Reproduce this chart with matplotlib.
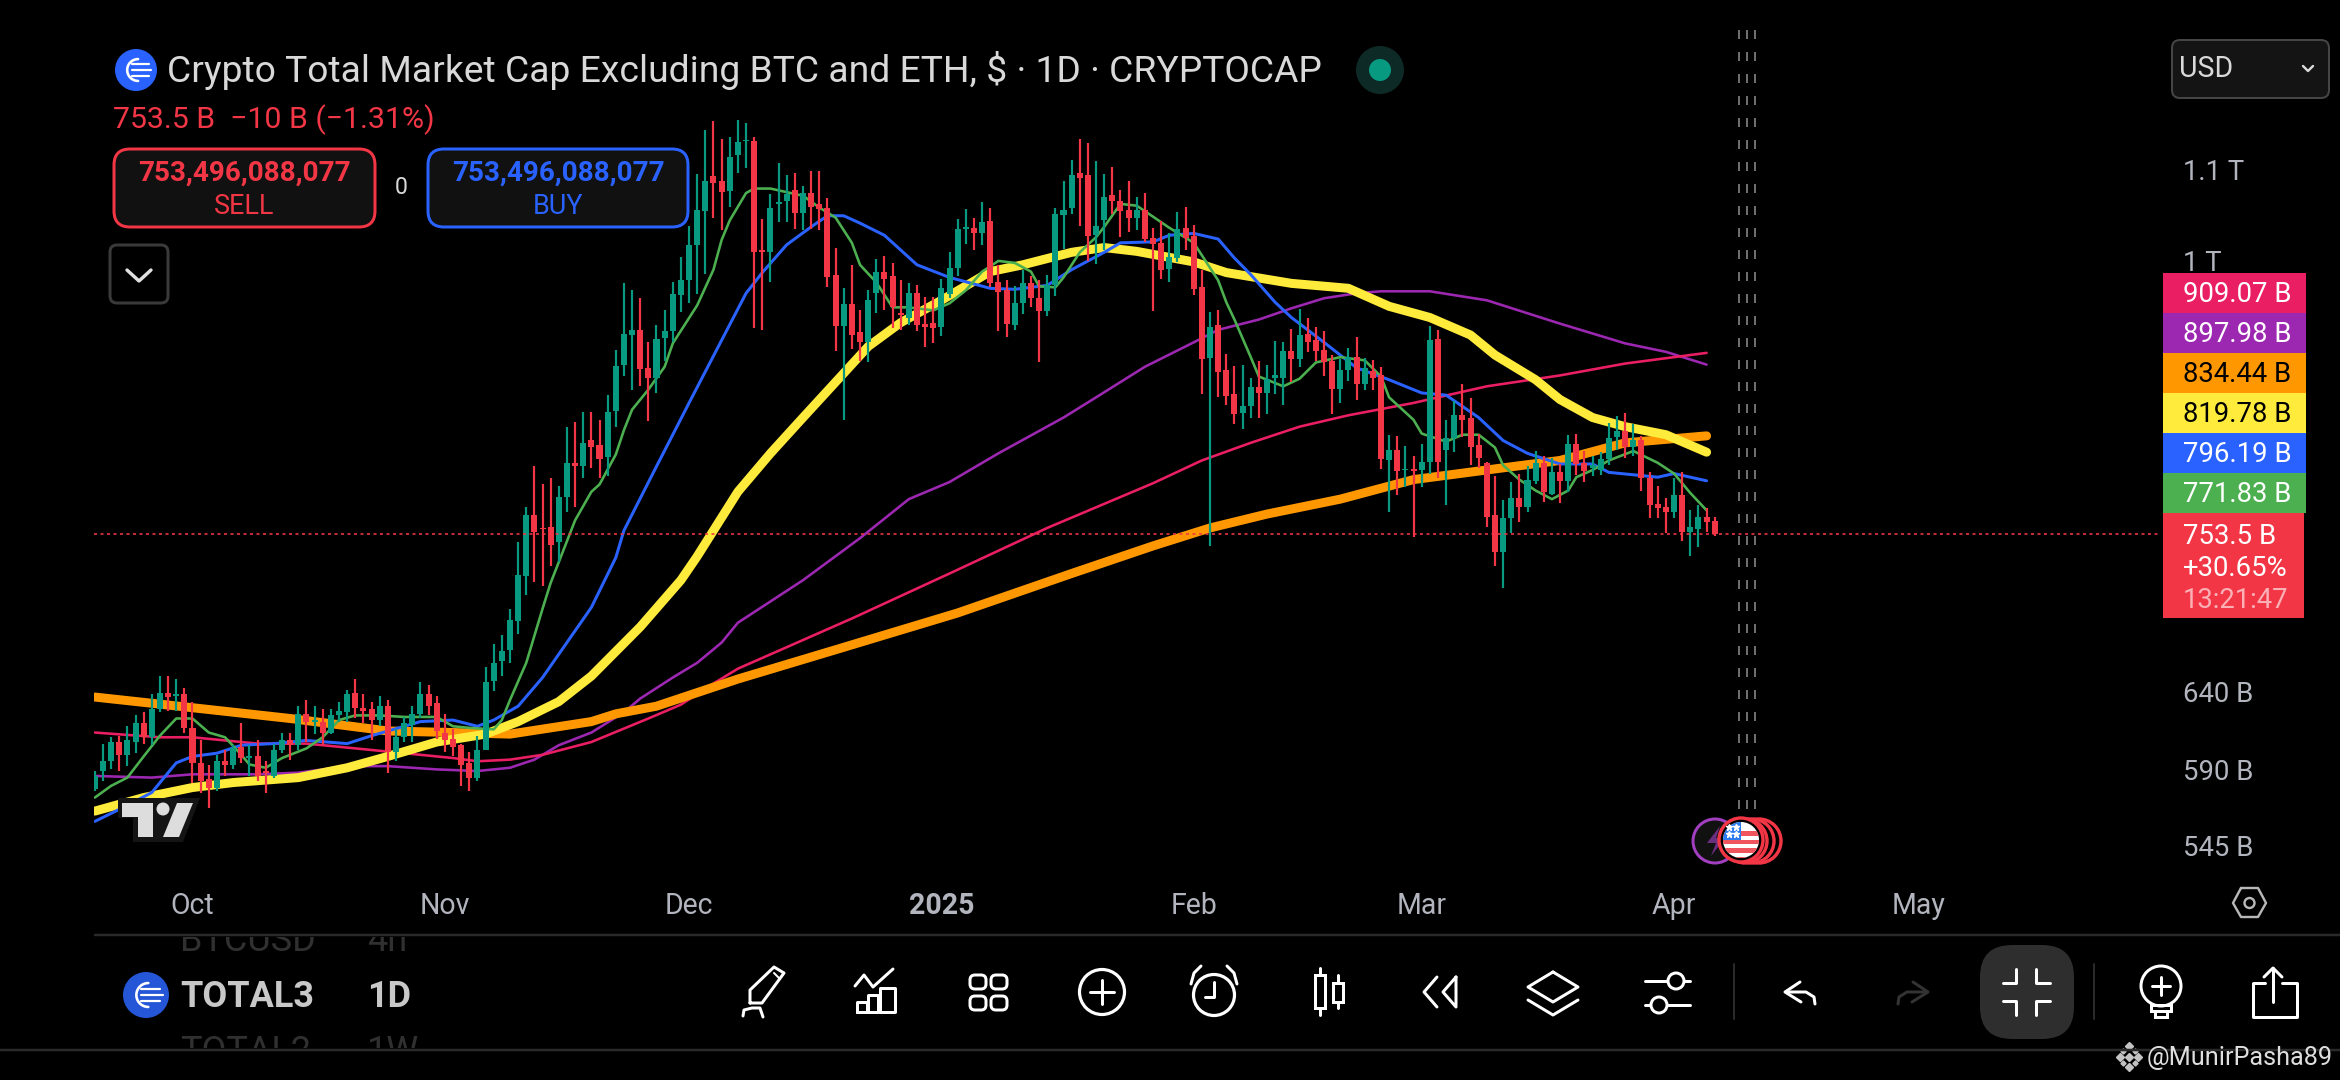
import numpy as np
import pandas as pd
import matplotlib
matplotlib.use('Agg')
import matplotlib.pyplot as plt
import matplotlib.dates as mdates
from matplotlib.patches import Circle, FancyBboxPatch, Polygon, Rectangle
from matplotlib.ticker import NullLocator

plt.rcParams['font.family'] = ['Roboto', 'DejaVu Sans']
plt.rcParams['lines.scale_dashes'] = False

# daily candles in billions of USD, first one is 2024-09-19
first_day = '2024-09-19'
opens = [578, 589, 595, 607, 599, 607, 619, 610, 628, 639, 637, 638, 616, 594, 584, 579, 595, 593, 604, 597,
         598, 589, 586, 602, 608, 605, 625, 620, 620, 613, 624, 626, 639, 629, 628, 621, 630, 601, 610, 618,
         625, 638, 632, 613, 609, 605, 594, 585, 602, 647, 660, 668, 688, 721, 768, 758, 759, 747, 783, 811,
         808, 830, 826, 816, 856, 898, 926, 931, 895, 886, 923, 930, 965, 980, 1017, 1053, 1092, 1086, 1075, 1116,
         1132, 1133, 1011, 1009, 1061, 1064, 1076, 1051, 1073, 1061, 1056, 986, 935, 956, 929, 919, 967, 989, 984, 947,
         943, 967, 937, 938, 934, 966, 993, 1034, 1035, 1029, 1042, 978, 970, 936, 957, 977, 962, 949, 975, 1049,
         1056, 1096, 1093, 1027, 1043, 1071, 1064, 1054, 1046, 1054, 1024, 1019, 992, 1003, 1035, 1026, 973, 904, 936, 893,
         871, 854, 860, 877, 872, 886, 886, 911, 903, 927, 921, 912, 901, 876, 893, 905, 880, 892, 888, 813,
         822, 805, 806, 805, 812, 922, 822, 832, 852, 850, 826, 811, 768, 739, 766, 782, 775, 796, 811, 785,
         803, 796, 827, 811, 807, 805, 814, 833, 838, 824, 830, 798, 777, 775, 771, 784, 755, 757, 767, 763.5]
highs = [589, 606, 610, 611, 617, 624, 626, 638, 650, 650, 648, 642, 633, 608, 593, 599, 602, 605, 619, 605,
         608, 595, 606, 613, 613, 630, 634, 630, 628, 628, 633, 641, 648, 638, 633, 637, 634, 615, 623, 630,
         646, 644, 637, 625, 615, 606, 601, 611, 656, 672, 678, 697, 747, 775, 808, 793, 798, 792, 842, 846,
         855, 855, 848, 870, 912, 977, 970, 962, 919, 936, 950, 978, 1004, 1037, 1094, 1146, 1156, 1135, 1137, 1158,
         1154, 1137, 1045, 1072, 1107, 1093, 1095, 1081, 1098, 1098, 1067, 1014, 972, 996, 950, 970, 1002, 1005, 998, 980,
         977, 975, 963, 963, 981, 1009, 1045, 1055, 1046, 1063, 1057, 996, 980, 974, 991, 985, 980, 986, 1057, 1087,
         1110, 1135, 1130, 1109, 1094, 1102, 1076, 1086, 1069, 1073, 1035, 1042, 1029, 1052, 1058, 1038, 991, 948, 950, 908,
         897, 898, 886, 901, 898, 920, 919, 932, 951, 943, 934, 930, 907, 903, 914, 924, 904, 902, 896, 835,
         834, 825, 817, 827, 935, 931, 848, 865, 880, 867, 836, 812, 800, 780, 795, 802, 808, 821, 817, 815,
         810, 835, 836, 821, 817, 820, 845, 851, 854, 844, 834, 803, 792, 782, 798, 803, 772, 776, 774, 767]
lows = [577, 583, 590, 589, 592, 600, 606, 605, 626, 627, 627, 613, 582, 576, 567, 577, 586, 590, 594, 586,
        583, 576, 585, 600, 596, 602, 607, 612, 605, 612, 620, 620, 622, 619, 608, 617, 588, 595, 607, 607,
        622, 624, 609, 601, 598, 580, 577, 583, 602, 640, 650, 659, 679, 707, 717, 714, 729, 732, 771, 775,
        798, 807, 798, 800, 842, 887, 875, 878, 847, 872, 901, 919, 948, 957, 966, 987, 1046, 1033, 1058, 1096,
        1101, 933, 931, 978, 1041, 1041, 1034, 1033, 1034, 1033, 973, 911, 848, 913, 901, 900, 947, 950, 933, 931,
        936, 930, 915, 918, 925, 962, 984, 1018, 1011, 1017, 973, 930, 924, 931, 946, 953, 900, 944, 964, 1012,
        1050, 1037, 1000, 997, 1011, 1050, 1025, 1031, 1033, 1020, 949, 981, 978, 999, 1011, 965, 871, 744, 868, 861,
        844, 840, 850, 850, 853, 871, 861, 882, 896, 910, 901, 887, 853, 863, 883, 866, 875, 875, 806, 771,
        784, 791, 751, 791, 802, 798, 776, 820, 833, 809, 807, 759, 729, 712, 754, 763, 771, 793, 779, 784,
        778, 787, 801, 795, 800, 801, 809, 822, 815, 817, 788, 766, 766, 754, 766, 748, 736, 743, 755, 752]
closes = [586, 595, 607, 599, 608, 619, 610, 628, 639, 636, 638, 616, 594, 583, 579, 595, 593, 603, 597, 598,
          586, 588, 602, 608, 605, 625, 620, 621, 613, 624, 627, 638, 629, 627, 621, 630, 601, 610, 619, 625,
          638, 630, 614, 608, 604, 593, 585, 602, 646, 659, 667, 689, 722, 768, 755, 757, 745, 783, 811, 808,
          828, 824, 814, 855, 897, 927, 931, 894, 886, 922, 930, 966, 980, 1017, 1054, 1086, 1084, 1074, 1114, 1131,
          1134, 1009, 1009, 1057, 1063, 1072, 1051, 1073, 1058, 1055, 983, 935, 956, 926, 919, 960, 989, 981, 953, 945,
          967, 936, 934, 933, 972, 993, 1034, 1036, 1029, 1041, 977, 968, 937, 957, 977, 962, 949, 975, 1050, 1054,
          1093, 1090, 1026, 1037, 1069, 1064, 1053, 1046, 1054, 1023, 1018, 991, 1004, 1034, 1024, 971, 903, 934, 891, 869,
          853, 860, 877, 872, 885, 888, 911, 903, 926, 919, 911, 900, 876, 893, 905, 880, 895, 886, 814, 822,
          804, 806, 804, 812, 921, 812, 832, 852, 848, 824, 815, 767, 739, 766, 782, 775, 797, 811, 787, 803,
          796, 827, 810, 804, 809, 814, 832, 838, 824, 830, 798, 776, 774, 771, 784, 755, 759, 767, 763, 753.5]

green_days = [-43, -41, -39, -37, -35, -33, -31, -29, -27, -25, -24, -22, -20, -17, -15, -13, -11, -8, -5, -1,
              1, 3, 6, 7, 8, 10, 12, 13, 16, 18, 19, 21, 22, 23, 25, 27, 28, 31, 33, 34,
              35, 37, 38, 40, 42, 44, 46, 48, 50, 51, 53, 55, 57, 60, 62, 64, 66, 68, 70, 72,
              73, 75, 76, 78, 80, 81, 83, 85, 87, 89, 92, 95, 96, 97, 99, 100, 103, 105, 107, 110,
              113, 115, 116, 119, 120, 123, 125, 127, 129, 130, 132, 134, 136, 138, 139, 141, 143, 146, 149, 151,
              153, 155]
green_ma = [573, 580, 585, 598, 611, 622, 622, 613, 610, 599, 593, 591, 597, 603, 610, 621, 624, 624, 623, 623,
            617, 616, 615, 621, 634, 659, 697, 716, 764, 787, 793, 818, 839, 857, 875, 896, 918, 955, 991, 1022,
            1043, 1073, 1078, 1078, 1074, 1070, 1057, 1046, 1019, 996, 978, 953, 953, 950, 957, 970, 989, 1000, 998, 989,
            974, 973, 983, 1009, 1025, 1036, 1061, 1059, 1047, 1035, 1019, 980, 958, 941, 905, 887, 878, 885, 900, 905,
            902, 887, 868, 848, 836, 829, 835, 835, 824, 809, 797, 788, 781, 788, 799, 805, 813, 821, 811, 802,
            786, 772]

blue_days = [-43, -40, -36, -33, -31, -28, -25, -21, -17, -12, -9, -3, 1, 4, 6, 9, 12, 18, 21, 22,
             26, 28, 30, 34, 37, 39, 42, 45, 47, 49, 51, 54, 58, 62, 67, 70, 74, 77, 81, 83,
             87, 89, 92, 95, 97, 99, 102, 104, 108, 112, 116, 120, 123, 127, 130, 133, 137, 141, 143, 149,
             151, 155]
blue_ma = [559, 566, 576, 594, 598, 600, 605, 606, 608, 606, 611, 620, 621, 617, 621, 630, 649, 698, 735, 756,
           808, 835, 863, 921, 967, 988, 1017, 1036, 1048, 1048, 1040, 1027, 996, 983, 972, 971, 975, 991, 1009, 1019,
           1020, 1027, 1029, 1023, 1003, 986, 958, 943, 919, 895, 884, 872, 870, 850, 830, 819, 810, 810, 803, 799,
           802, 796]

yellow_days = [-43, -37, -31, -26, -18, -12, -7, -1, 5, 9, 14, 18, 24, 29, 31, 36, 40, 44, 49, 52,
               56, 61, 67, 71, 77, 81, 85, 92, 96, 104, 111, 116, 121, 126, 129, 134, 137, 141, 145, 150,
               155]
yellow_ma = [565, 573, 579, 582, 585, 591, 598, 607, 612, 620, 633, 650, 684, 718, 736, 787, 819, 850, 890, 915,
             938, 960, 989, 996, 1009, 1014, 1010, 999, 988, 977, 972, 954, 943, 926, 907, 884, 866, 850, 842, 835,
             820]

purple_days = [-43, -36, -31, -23, -18, -12, -7, -1, 4, 8, 11, 14, 18, 22, 24, 28, 31, 34, 36, 44,
               51, 57, 62, 68, 76, 80, 86, 92, 95, 100, 104, 108, 112, 115, 121, 128, 137, 145, 150, 155]
purple_ma = [586, 585, 587, 587, 588, 592, 592, 590, 589, 591, 596, 605, 613, 626, 635, 649, 659, 673, 687, 718,
             750, 781, 795, 819, 850, 868, 896, 919, 931, 941, 952, 962, 967, 969, 969, 960, 937, 918, 910, 898]

pink_days = [-43, -35, -31, -23, -17, -11, -5, 1, 4, 8, 12, 18, 25, 29, 33, 36, 50, 62, 74, 87,
             93, 99, 105, 111, 119, 125, 128, 137, 145, 155]
pink_ma = [613, 610, 610, 606, 606, 603, 600, 597, 595, 596, 599, 607, 622, 631, 645, 655, 690, 723, 758, 794,
           813, 828, 842, 852, 863, 873, 878, 888, 899, 909]

orange_days = [-43, -31, -19, -7, 1, 8, 18, 21, 26, 36, 48, 63, 77, 87, 94, 101, 110, 119, 128, 137,
               145, 155]
orange_ma = [636, 629, 622, 614, 613, 612, 620, 625, 630, 648, 668, 694, 723, 744, 758, 769, 781, 797, 805, 813,
             828, 834]

last_price = 753.5
event_days = [159, 160, 161]
price_ticks = [545, 590, 640, 1000, 1100]
price_tick_labels = ['545 B', '590 B', '640 B', '1 T', '1.1 T']
month_starts = ['2024-10-01', '2024-11-01', '2024-12-01', '2025-01-01', '2025-02-01', '2025-03-01', '2025-04-01', '2025-05-01']
month_labels = ['Oct', 'Nov', 'Dec', '2025', 'Feb', 'Mar', 'Apr', 'May']

tag_labels = ['909.07 B', '897.98 B', '834.44 B', '819.78 B', '796.19 B', '771.83 B']
tag_colors = ['#E91E63', '#9C27B0', '#FF9800', '#FFEB3B', '#2962FF', '#4CAF50']
tag_text = ['white', 'white', 'black', 'black', 'white', 'white']

RED = '#F23645'
UP = '#089981'
BLUE = '#2962FF'
W, H = 2340, 1080
PX = 0.72  # font size in points for one pixel at dpi 100


def main():
  fig = plt.figure(figsize=(W / 100, H / 100), dpi=100, facecolor='black')
  draw_chart(fig)
  ui = fig.add_axes([0, 0, 1, 1], zorder=5)
  ui.set_xlim(0, W)
  ui.set_ylim(H, 0)
  ui.axis('off')
  ui.patch.set_alpha(0)
  draw_header(ui)
  draw_price_tags(ui)
  draw_overlays(ui)
  draw_toolbar(ui)
  fig.savefig('out.png', dpi=100, facecolor='black')


def draw_chart(fig):
  # chart area in pixels: x 94..2160, y 0..885
  ax = fig.add_axes([94 / W, 1 - 885 / H, (2160 - 94) / W, 885 / H], zorder=1)
  ax.set_facecolor('black')
  for s in ax.spines.values():
    s.set_visible(False)

  day0 = mdates.date2num(pd.Timestamp('2024-11-01'))
  days = mdates.date2num(pd.date_range(first_day, periods=len(opens), freq='D'))

  lines = [(purple_days, purple_ma, '#9C27B0', 2.6), (pink_days, pink_ma, '#E91E63', 2.6),
           (orange_days, orange_ma, '#FF9800', 9), (yellow_days, yellow_ma, '#FFEB3B', 9),
           (blue_days, blue_ma, BLUE, 3.0), (green_days, green_ma, '#4CAF50', 2.6)]
  for xs, ys, color, width in lines:
    ax.plot(day0 + np.array(xs), ys, color=color, lw=width * PX, solid_capstyle='round', solid_joinstyle='round', zorder=2)

  o = np.array(opens, dtype=float)
  c = np.array(closes, dtype=float)
  colors = np.where(c >= o, UP, RED)
  ax.vlines(days, lows, highs, colors=colors, lw=2.2 * PX, zorder=3)
  ax.bar(days, np.abs(c - o), bottom=np.minimum(o, c), width=0.74, color=colors, zorder=3)

  ax.axhline(last_price, color=RED, lw=1.6 * PX, ls=(0, (3 * PX, 3.5 * PX)), zorder=4)
  ax.vlines(day0 + np.array(event_days), 566, 1271, colors='#6e6e6e', lw=2 * PX,
            linestyles=[(0, (9 * PX, 13 * PX))], zorder=1)

  ax.set_yscale('log')
  ax.set_ylim(523.3, 1311)
  ax.set_xlim(day0 - 43.1, day0 + 210.7)

  ax.yaxis.tick_right()
  ax.yaxis.set_minor_locator(NullLocator())
  ax.set_yticks(price_ticks, price_tick_labels)
  ax.tick_params(axis='y', length=0, pad=23 * PX, labelsize=27.5 * PX, labelcolor='#b2b5be')
  ax.set_xticks(mdates.date2num(pd.to_datetime(month_starts)), month_labels)
  ax.tick_params(axis='x', length=0, pad=7 * PX, labelsize=28.5 * PX, labelcolor='#b2b5be')
  for lab in ax.get_xticklabels():
    if lab.get_text() == '2025':
      lab.set_fontweight('bold')


def label(ui, x, y, s, size, color, ha='left', va='center', weight='normal', **kw):
  return ui.text(x, y, s, fontsize=size * PX, color=color, ha=ha, va=va, fontweight=weight, **kw)


def stroke(ui, pts, color='white', width=3.0, **kw):
  pts = np.array(pts, dtype=float)
  ui.plot(pts[:, 0], pts[:, 1], color=color, lw=width * PX, solid_capstyle='round', solid_joinstyle='round', **kw)


def round_box(ui, x0, y0, x1, y1, r, fc, ec, width=3.0):
  ui.add_patch(FancyBboxPatch((x0 + r, y0 + r), x1 - x0 - 2 * r, y1 - y0 - 2 * r,
                              boxstyle='round,pad=%f,rounding_size=%f' % (r, r),
                              fc=fc, ec=ec, lw=width * PX))


def coin_logo(ui, x, y, r, color):
  ui.add_patch(Circle((x, y), r, fc=color, ec='none'))
  t = np.linspace(np.pi / 2, 3 * np.pi / 2, 20)
  stroke(ui, np.c_[x + 0.1 * r + 0.52 * r * np.cos(t), y + 0.52 * r * np.sin(t)], width=2.6)
  for dy, end in [(-0.28, 0.62), (0, 0.72), (0.28, 0.62)]:
    stroke(ui, [(x - 0.2 * r, y + dy * r), (x + end * r, y + dy * r)], width=2.2)


def draw_header(ui):
  coin_logo(ui, 136, 70, 21, BLUE)
  label(ui, 167, 82, 'Crypto Total Market Cap Excluding BTC and ETH, $ · 1D · CRYPTOCAP',
        37.2, '#d9d9d9', va='baseline')
  label(ui, 113, 128, '753.5 B  −10 B (−1.31%)', 30.2, RED, va='baseline')

  round_box(ui, 114, 149, 375, 227, 16, '#111111', RED)
  label(ui, 244.5, 173, '753,496,088,077', 27.9, RED, ha='center', weight='bold')
  label(ui, 244.5, 206, 'SELL', 27, RED, ha='center')
  label(ui, 401, 187, '0', 23, '#d9d9d9', ha='center')
  round_box(ui, 428, 149, 688, 227, 16, '#111111', BLUE)
  label(ui, 558, 173, '753,496,088,077', 27.9, BLUE, ha='center', weight='bold')
  label(ui, 558, 206, 'BUY', 27, BLUE, ha='center')

  round_box(ui, 110, 245, 168, 303, 7, 'black', '#3a3a3a')
  stroke(ui, [(127, 270), (139, 281), (151, 270)], '#e0e0e0', 3.4)

  ui.add_patch(Circle((1380, 70), 24, fc='#0d2a26', ec='none'))
  ui.add_patch(Circle((1380, 70), 11, fc=UP, ec='none'))

  round_box(ui, 2172, 40, 2329, 98, 8, '#141414', '#454545', 2)
  label(ui, 2179, 69, 'USD', 28.5, '#d9d9d9')
  stroke(ui, [(2303, 66), (2308, 71), (2313, 66)], '#d9d9d9', 2.4)


def draw_price_tags(ui):
  for i in range(len(tag_labels)):
    y0 = 273 + 40 * i
    ui.add_patch(Rectangle((2163, y0), 143, 40, fc=tag_colors[i], ec='none'))
    label(ui, 2183, y0 + 22, tag_labels[i], 27.5, tag_text[i])
  ui.add_patch(Rectangle((2163, 513), 141, 105, fc=RED, ec='none'))
  label(ui, 2183, 536, '753.5 B', 27.5, 'white')
  label(ui, 2183, 569, '+30.65%', 27.5, 'white')
  label(ui, 2183, 601, '13:21:47', 27.5, '#fbb0b6')


def draw_overlays(ui):
  # tradingview mark
  ui.add_patch(Polygon([(118, 798), (200, 798), (183, 842), (133, 842), (133, 818), (118, 818)], fc='#141414', ec='none'))
  ui.add_patch(Polygon([(122, 803), (153, 803), (153, 837), (138, 837), (138, 817), (122, 817)], fc='#dddddd', ec='none'))
  ui.add_patch(Circle((163, 809), 6.5, fc='#dddddd', ec='none'))
  ui.add_patch(Polygon([(177, 803), (193, 803), (179, 837), (163, 837)], fc='#dddddd', ec='none'))

  # event markers
  ui.add_patch(Circle((1715, 841), 22, fc='#111111', ec='#A13FC0', lw=3 * PX))
  ui.add_patch(Polygon([(1720, 826), (1707, 843), (1716, 843), (1711, 856), (1725, 838), (1716, 838)], fc='#6b2f80', ec='none'))
  for cx in [1759, 1752, 1745]:
    ui.add_patch(Circle((cx, 841), 22, fc='black', ec=RED, lw=3.4 * PX))
  ui.add_patch(Circle((1741, 840), 22, fc='black', ec=RED, lw=3.4 * PX))
  flag = Circle((1741, 840), 18, fc='white', ec='none')
  ui.add_patch(flag)
  for k in range(4):
    st = Rectangle((1722, 835 + k * 8.5 - 4), 40, 4.5, fc='#F0545C', ec='none')
    ui.add_patch(st)
    st.set_clip_path(flag)
  canton = Rectangle((1722, 821), 19, 19, fc='#2E7BF0', ec='none')
  ui.add_patch(canton)
  canton.set_clip_path(flag)
  for sy in [827, 834]:
    ui.plot([1729, 1736], [sy, sy], ls='none', marker='*', ms=4.5, color='white')

  # settings hexagon
  stroke(ui, [(2241, 888), (2258, 888), (2266, 903), (2258, 917), (2241, 917), (2233, 903), (2241, 888)], '#b8b8b8', 2.4)
  ui.add_patch(Circle((2249.5, 903), 5, fc='none', ec='#b8b8b8', lw=2.4 * PX))

  # watermark
  ui.plot([2129, 2129, 2120, 2138, 2129], [1046, 1067, 1057, 1057, 1057], ls='none', marker='D', ms=3.6, color='#c4c4c4')
  ui.plot([2123, 2135, 2123, 2135], [1051, 1051, 1063, 1063], ls='none', marker='D', ms=2.6, color='#c4c4c4')
  label(ui, 2147, 1058, '@MunirPasha89', 25.3, '#dedede')


def draw_toolbar(ui):
  stroke(ui, [(95, 935), (W, 935)], '#2a2a2a', 2.5)
  stroke(ui, [(0, 1050), (W, 1050)], '#2a2a2a', 2.5)

  # symbol list that scrolls behind the two rules
  top = Rectangle((0, 937), W, 111, transform=ui.transData)
  for y, sym, tf in [(941, 'BTCUSD', '4h'), (1052, 'TOTAL2', '1W')]:
    for x, s in [(180, sym), (367, tf)]:
      t = label(ui, x, y, s, 36, '#303030', clip_on=True)
      t.set_clip_path(top)
  coin_logo(ui, 146, 995, 23, '#2556D8')
  label(ui, 180, 997, 'TOTAL3', 36, '#c8c8c8', weight='bold')
  label(ui, 367, 997, '1D', 36, '#c8c8c8', weight='bold')

  # pencil
  stroke(ui, [(750, 1003), (750, 990), (774, 967), (784, 973), (762, 1003), (750, 1003)])
  stroke(ui, [(774, 973), (780, 979)], width=2)
  stroke(ui, [(743, 1016), (744, 1010), (752, 1008), (760, 1008), (763, 1017)])

  # indicators
  stroke(ui, [(855, 986), (864, 975), (873, 987), (893, 969)])
  for x0, y0, x1 in [(857, 1002, 867), (868, 995, 878), (880, 988, 895)]:
    stroke(ui, [(x0, 1012), (x0, y0), (x1, y0), (x1, 1012), (x0, 1012)])

  # layouts
  for x0 in [970, 991]:
    for y0 in [975, 996]:
      round_box(ui, x0, y0, x0 + 16, y0 + 14, 5, 'none', 'white')

  # plus
  ui.add_patch(Circle((1102, 992), 22.5, fc='none', ec='white', lw=3.2 * PX))
  stroke(ui, [(1090, 992), (1114, 992)])
  stroke(ui, [(1102, 980), (1102, 1004)])

  # alarm
  ui.add_patch(Circle((1214, 995), 20.5, fc='none', ec='white', lw=3.2 * PX))
  stroke(ui, [(1214, 982), (1214, 997), (1205, 997)])
  stroke(ui, [(1191, 984), (1194, 973), (1201, 966)])
  stroke(ui, [(1237, 984), (1234, 973), (1227, 966)])

  # candles
  stroke(ui, [(1320, 968), (1320, 975)])
  stroke(ui, [(1320, 1008), (1320, 1015)])
  ui.add_patch(Rectangle((1315, 975), 10, 33, fc='none', ec='white', lw=3 * PX))
  stroke(ui, [(1338, 975), (1338, 983)])
  stroke(ui, [(1338, 1002), (1338, 1008)])
  ui.add_patch(Rectangle((1333, 983), 10, 19, fc='none', ec='white', lw=3 * PX))

  # replay
  stroke(ui, [(1437, 977), (1424, 992), (1437, 1007)])
  stroke(ui, [(1456, 977), (1443, 992), (1456, 1007), (1456, 977)])

  # layers
  stroke(ui, [(1553, 972), (1578, 987), (1553, 1002), (1528, 987), (1553, 972)])
  stroke(ui, [(1528, 1000), (1553, 1015), (1578, 1000)])

  # sliders
  stroke(ui, [(1645, 981), (1667, 981)])
  stroke(ui, [(1685, 981), (1690, 981)])
  ui.add_patch(Circle((1676, 981), 8, fc='none', ec='white', lw=3 * PX))
  stroke(ui, [(1645, 1005), (1650, 1005)])
  stroke(ui, [(1668, 1005), (1690, 1005)])
  ui.add_patch(Circle((1659, 1005), 8, fc='none', ec='white', lw=3 * PX))

  stroke(ui, [(1734, 964), (1734, 1019)], '#2a2a2a', 2)
  stroke(ui, [(2094, 964), (2094, 1019)], '#2a2a2a', 2)

  # undo and redo
  stroke(ui, [(1800, 982), (1785, 992), (1801, 1002)])
  stroke(ui, [(1786, 992), (1806, 992), (1814, 997), (1815, 1004)])
  stroke(ui, [(1913, 982), (1928, 992), (1912, 1002)], '#333333')
  stroke(ui, [(1927, 992), (1907, 992), (1899, 997), (1898, 1004)], '#333333')

  # fullscreen button
  round_box(ui, 1980, 945, 2074, 1039, 32, '#2e2e2e', 'none', 0)
  stroke(ui, [(2016, 969), (2016, 983), (2003, 983)])
  stroke(ui, [(2036, 969), (2036, 983), (2050, 983)])
  stroke(ui, [(2003, 1001), (2016, 1001), (2016, 1015)])
  stroke(ui, [(2050, 1001), (2036, 1001), (2036, 1015)])

  # bulb
  ui.add_patch(Circle((2161, 986), 20, fc='none', ec='white', lw=3 * PX))
  stroke(ui, [(2152, 986), (2170, 986)])
  stroke(ui, [(2161, 977), (2161, 995)])
  ui.add_patch(Rectangle((2151, 1005), 20, 6, fc='none', ec='white', lw=3 * PX))
  ui.add_patch(Rectangle((2155, 1011), 12, 6, fc='none', ec='white', lw=3 * PX))

  # share
  stroke(ui, [(2265, 983), (2253, 983), (2253, 1017), (2297, 1017), (2297, 983), (2282, 983)])
  stroke(ui, [(2273, 1002), (2273, 968)])
  stroke(ui, [(2264, 977), (2273, 968), (2282, 977)])


main()
